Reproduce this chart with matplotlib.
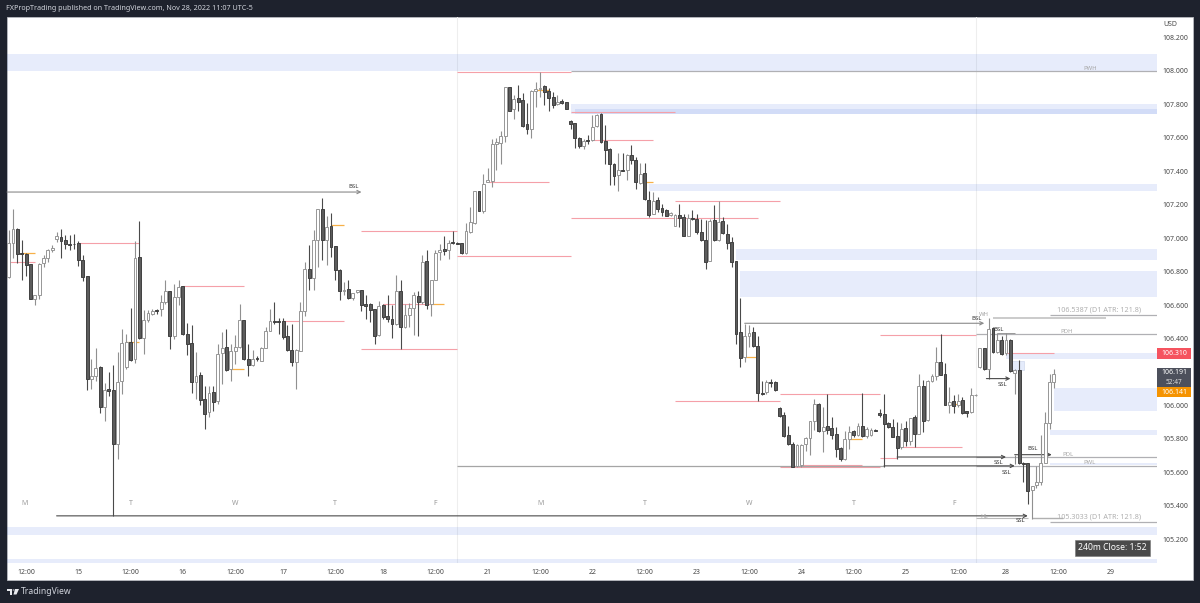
import matplotlib
matplotlib.use('Agg')
import matplotlib.pyplot as plt
from matplotlib.patches import Rectangle, Circle, Polygon

plt.rcParams['font.family'] = ['Noto Sans', 'DejaVu Sans']

# hourly candles
opens = [106.768, 106.972, 107.052, 106.914, 106.904, 106.844, 106.638, 106.658, 106.852, 106.884,
         106.928, 106.996, 107.008, 106.992, 106.968, 106.968, 106.972, 106.868, 106.772, 106.158,
         106.174, 106.228, 105.992, 106.098, 106.092, 105.768, 106.148, 106.228, 106.380, 106.278,
         106.888, 106.404, 106.512, 106.548, 106.572, 106.578, 106.618, 106.682, 106.412, 106.648,
         106.712, 106.428, 106.374, 106.140, 106.180, 106.038, 105.958, 106.078, 106.024, 106.312,
         106.352, 106.218, 106.328, 106.348, 106.512, 106.278, 106.242, 106.286, 106.266, 106.346,
         106.444, 106.506, 106.506, 106.502, 106.412, 106.332, 106.258, 106.328, 106.562, 106.818,
         106.764, 106.988, 107.176, 106.992, 107.072, 106.952, 106.812, 106.682, 106.698, 106.644,
         106.676, 106.692, 106.604, 106.604, 106.578, 106.418, 106.602, 106.532, 106.518, 106.484,
         106.686, 106.466, 106.542, 106.584, 106.654, 106.618, 106.864, 106.608, 106.752, 106.918,
         106.934, 106.932, 106.976, 106.974, 106.972, 106.914, 107.034, 107.092, 107.282, 107.162,
         107.336, 107.342, 107.562, 107.572, 107.614, 107.902, 107.770, 107.836, 107.826, 107.680,
         107.656, 107.882, 107.894, 107.910, 107.880, 107.842, 107.802, 107.820, 107.812, 107.700,
         107.686, 107.602, 107.552, 107.586, 107.586, 107.670, 107.740, 107.580, 107.536, 107.446,
         107.376, 107.410, 107.406, 107.500, 107.470, 107.330, 107.392, 107.230, 107.146, 107.226,
         107.180, 107.166, 107.136, 107.072, 107.140, 107.126, 107.012, 107.122, 107.116, 107.036,
         106.992, 106.866, 107.106, 106.990, 107.102, 107.022, 106.976, 106.863, 106.437, 106.289,
         106.417, 106.437, 106.357, 106.075, 106.079, 106.141, 106.139, 105.985, 105.945, 105.825,
         105.769, 105.637, 105.641, 105.769, 105.805, 105.905, 106.011, 105.849, 105.877, 105.863,
         105.829, 105.745, 105.681, 105.799, 105.845, 105.825, 105.875, 105.819, 105.825, 105.853,
         105.957, 105.949, 105.893, 105.873, 105.819, 105.749, 105.865, 105.785, 105.929, 105.829,
         106.117, 105.913, 106.143, 106.175, 106.261, 106.189, 106.005, 106.027, 106.001, 106.033,
         105.965, 105.961, 106.059, 106.230, 106.344, 106.220, 106.460, 106.320, 106.390, 106.314,
         106.390, 106.194, 106.210, 105.656, 105.654, 105.496, 105.524, 105.540, 105.658, 105.894,
         106.140]
highs = [107.048, 107.172, 107.058, 106.988, 106.914, 106.848, 106.658, 106.852, 106.898, 106.938,
         106.958, 107.034, 107.052, 107.018, 107.018, 107.024, 106.984, 106.898, 106.772, 106.278,
         106.342, 106.238, 106.134, 106.198, 106.244, 106.322, 106.458, 106.428, 106.584, 106.984,
         107.104, 106.568, 106.568, 106.578, 106.578, 106.658, 106.752, 106.684, 106.728, 106.752,
         106.712, 106.492, 106.478, 106.318, 106.198, 106.118, 106.118, 106.118, 106.368, 106.438,
         106.458, 106.368, 106.418, 106.608, 106.512, 106.364, 106.332, 106.298, 106.352, 106.468,
         106.578, 106.618, 106.524, 106.524, 106.478, 106.484, 106.338, 106.618, 106.858, 106.958,
         107.048, 107.172, 107.238, 107.132, 107.152, 106.952, 106.818, 106.738, 106.752, 106.674,
         106.692, 106.692, 106.658, 106.612, 106.578, 106.624, 106.604, 106.658, 106.598, 106.782,
         106.748, 106.604, 106.612, 106.678, 106.684, 106.898, 106.928, 106.752, 106.932, 106.968,
         107.012, 106.988, 107.044, 106.978, 106.974, 107.088, 107.188, 107.282, 107.282, 107.386,
         107.420, 107.596, 107.602, 107.640, 107.902, 107.902, 107.856, 107.916, 107.870, 107.806,
         107.886, 107.936, 107.996, 107.916, 107.896, 107.876, 107.856, 107.830, 107.816, 107.706,
         107.690, 107.606, 107.596, 107.616, 107.736, 107.740, 107.750, 107.676, 107.542, 107.450,
         107.510, 107.510, 107.506, 107.560, 107.486, 107.450, 107.450, 107.282, 107.276, 107.246,
         107.202, 107.176, 107.156, 107.146, 107.206, 107.142, 107.142, 107.170, 107.142, 107.116,
         107.106, 107.116, 107.196, 107.222, 107.126, 107.082, 107.006, 106.863, 106.643, 106.489,
         106.479, 106.469, 106.413, 106.145, 106.153, 106.155, 106.145, 105.993, 105.959, 105.879,
         105.779, 105.769, 105.769, 105.813, 105.905, 106.039, 106.013, 105.993, 106.065, 105.929,
         105.869, 105.749, 105.849, 105.879, 105.853, 105.897, 106.073, 105.869, 105.865, 105.857,
         105.979, 106.065, 105.899, 105.919, 105.899, 105.893, 105.909, 105.925, 105.945, 106.189,
         106.149, 106.149, 106.185, 106.349, 106.425, 106.253, 106.109, 106.059, 106.069, 106.049,
         105.969, 106.105, 106.065, 106.344, 106.344, 106.520, 106.466, 106.430, 106.414, 106.434,
         106.394, 106.220, 106.274, 105.660, 105.656, 105.520, 105.640, 105.820, 105.960, 106.186,
         106.220]
lows = [106.764, 106.884, 106.852, 106.748, 106.772, 106.634, 106.600, 106.638, 106.828, 106.858,
        106.918, 106.978, 106.884, 106.938, 106.928, 106.938, 106.832, 106.744, 106.092, 106.098,
        106.148, 105.952, 105.908, 106.058, 105.338, 105.682, 106.068, 106.218, 106.268, 106.252,
        106.398, 106.308, 106.498, 106.538, 106.548, 106.534, 106.604, 106.338, 106.398, 106.598,
        106.422, 106.304, 106.072, 106.038, 106.002, 105.858, 105.928, 105.968, 106.008, 106.128,
        106.208, 106.148, 106.248, 106.342, 106.274, 106.178, 106.238, 106.268, 106.264, 106.342,
        106.442, 106.488, 106.424, 106.398, 106.328, 106.238, 106.098, 106.328, 106.532, 106.692,
        106.692, 106.828, 106.872, 106.838, 106.888, 106.752, 106.632, 106.658, 106.638, 106.632,
        106.672, 106.564, 106.518, 106.498, 106.364, 106.414, 106.518, 106.498, 106.404, 106.478,
        106.338, 106.462, 106.468, 106.418, 106.414, 106.604, 106.578, 106.532, 106.748, 106.868,
        106.898, 106.878, 106.968, 106.964, 106.904, 106.904, 107.028, 107.086, 107.162, 107.150,
        107.336, 107.306, 107.410, 107.442, 107.576, 107.762, 107.710, 107.762, 107.666, 107.622,
        107.602, 107.786, 107.846, 107.796, 107.762, 107.776, 107.796, 107.802, 107.772, 107.652,
        107.540, 107.542, 107.536, 107.566, 107.582, 107.666, 107.570, 107.442, 107.316, 107.316,
        107.282, 107.402, 107.346, 107.442, 107.296, 107.326, 107.230, 107.126, 107.142, 107.156,
        107.130, 107.130, 107.130, 107.070, 107.066, 107.012, 107.012, 107.106, 107.026, 106.986,
        106.816, 106.862, 106.986, 106.982, 107.026, 106.936, 106.826, 106.369, 106.229, 106.259,
        106.349, 106.349, 106.029, 106.063, 106.069, 106.109, 106.085, 105.929, 105.813, 105.765,
        105.629, 105.633, 105.633, 105.729, 105.705, 105.853, 105.839, 105.719, 105.829, 105.799,
        105.689, 105.669, 105.673, 105.739, 105.809, 105.819, 105.809, 105.805, 105.819, 105.845,
        105.933, 105.629, 105.865, 105.809, 105.679, 105.739, 105.759, 105.765, 105.749, 105.829,
        105.843, 105.909, 106.139, 106.149, 106.179, 106.003, 105.953, 105.953, 105.989, 105.949,
        105.933, 105.957, 106.057, 106.226, 106.214, 106.210, 106.314, 106.314, 106.300, 106.300,
        106.200, 106.070, 105.650, 105.540, 105.410, 105.320, 105.506, 105.526, 105.654, 105.860,
        106.104]
closes = [106.972, 107.052, 106.908, 106.906, 106.840, 106.638, 106.658, 106.848, 106.884, 106.928,
          106.944, 107.012, 106.984, 106.968, 106.960, 106.964, 106.868, 106.768, 106.158, 106.178,
          106.224, 105.988, 106.092, 106.088, 105.768, 106.138, 106.374, 106.378, 106.272, 106.884,
          106.404, 106.512, 106.552, 106.564, 106.566, 106.618, 106.682, 106.414, 106.648, 106.708,
          106.424, 106.368, 106.138, 106.178, 106.032, 105.948, 106.072, 106.018, 106.308, 106.344,
          106.212, 106.324, 106.348, 106.512, 106.278, 106.242, 106.278, 106.280, 106.342, 106.442,
          106.506, 106.500, 106.500, 106.408, 106.332, 106.258, 106.332, 106.562, 106.814, 106.762,
          106.988, 107.172, 106.988, 107.064, 106.948, 106.812, 106.682, 106.692, 106.644, 106.672,
          106.688, 106.598, 106.596, 106.572, 106.414, 106.594, 106.528, 106.518, 106.488, 106.682,
          106.468, 106.542, 106.584, 106.658, 106.618, 106.858, 106.602, 106.752, 106.912, 106.928,
          106.926, 106.972, 106.970, 106.968, 106.914, 107.042, 107.094, 107.282, 107.162, 107.326,
          107.346, 107.562, 107.576, 107.610, 107.902, 107.762, 107.830, 107.816, 107.672, 107.652,
          107.882, 107.894, 107.898, 107.874, 107.836, 107.796, 107.816, 107.806, 107.774, 107.680,
          107.600, 107.550, 107.584, 107.582, 107.666, 107.736, 107.576, 107.530, 107.442, 107.372,
          107.406, 107.404, 107.496, 107.470, 107.336, 107.386, 107.236, 107.136, 107.220, 107.176,
          107.156, 107.134, 107.152, 107.136, 107.122, 107.012, 107.120, 107.114, 107.034, 106.990,
          106.856, 107.102, 106.990, 107.098, 107.030, 106.970, 106.856, 106.429, 106.285, 106.417,
          106.433, 106.357, 106.073, 106.069, 106.139, 106.135, 106.089, 105.937, 105.815, 105.769,
          105.633, 105.765, 105.765, 105.805, 105.905, 106.009, 105.845, 105.873, 105.855, 105.823,
          105.739, 105.677, 105.799, 105.843, 105.825, 105.877, 105.815, 105.859, 105.853, 105.849,
          105.943, 105.889, 105.869, 105.813, 105.745, 105.857, 105.785, 105.925, 105.829, 106.117,
          105.909, 106.143, 106.173, 106.261, 106.181, 106.005, 106.021, 105.997, 106.029, 105.957,
          105.955, 106.061, 106.063, 106.344, 106.220, 106.454, 106.320, 106.390, 106.310, 106.390,
          106.204, 106.214, 105.656, 105.650, 105.490, 105.516, 105.540, 105.654, 105.894, 106.138,
          106.190]

# 106.200 sits under the last price tag in the picture, so it has no label
price_ticks = [108.2, 108.0, 107.8, 107.6, 107.4, 107.2, 107.0, 106.8, 106.6, 106.4, 106.0,
               105.8, 105.6, 105.4, 105.2]
time_positions = [4, 16, 28, 40, 52, 63, 75, 86, 98, 110, 122, 134, 146, 158, 170, 182, 194, 206, 218, 229, 241, 253]
time_labels = ['12:00', '15', '12:00', '16', '12:00', '17', '12:00', '18', '12:00', '21', '12:00',
               '22', '12:00', '23', '12:00', '24', '12:00', '25', '12:00', '28', '12:00', '29']
day_positions = [3.7, 28, 52, 75, 98, 122, 146, 170, 194, 217]
day_labels = ['M', 'T', 'W', 'T', 'F', 'M', 'T', 'W', 'T', 'F']
session_lines = [103, 222]

# fair value gaps: low price, high price, first bar
zone_low = [108.0, 107.743, 107.743, 107.282, 106.87, 106.648, 106.278, 105.967, 105.823, 105.644, 105.222, 105.057]
zone_high = [108.102, 107.803, 107.773, 107.324, 106.935, 106.804, 106.313, 106.104, 105.853, 105.656, 105.273, 105.08]
zone_start = [-1, 129, 130, 147, 167, 168, 229, 240, 239, 239, -1, -1]

# pink session levels
red_price = [106.972, 106.856, 106.714, 106.506, 107.045, 106.338, 106.604, 106.896, 107.122, 107.336, 107.996,
             107.752, 107.59, 107.224, 106.029, 106.067, 105.645, 105.631, 105.749, 105.685, 106.423, 106.314]
red_start = [16, -1, 40, 63, 81, 81, 86, 103, 129, 110, 103, 129, 134, 153, 153, 177, 182, 177, 205, 200, 200, 229]
red_end = [30, 6, 54, 77, 103, 103, 97, 129, 172, 124, 129, 153, 148, 177, 177, 200, 196, 200, 219, 204, 222, 240]

orange_price = [106.914, 106.38, 106.218, 107.076, 106.604, 107.886, 107.334, 106.289, 105.801, 106.009]
orange_start = [3, 27, 51, 74, 97, 121, 145, 169, 193, 216]
orange_end = [6, 30, 54, 77, 100, 124, 148, 172, 196, 219]

# dark grey liquidity arrows
arrow_price = [107.276, 105.339, 105.691, 105.638, 106.491, 106.16, 105.705]
arrow_start = [-0.39, 11, 204, 201, 169, 224.5, 231]
arrow_end = [81, 234, 229, 231, 224, 230, 239.5]

# level lines reaching the price axis
level_price = [108.0, 106.424, 105.69, 105.636, 106.5387, 105.3033]
level_start = [129, 222, 222, 222, 239, 239]
level_names = ['PWH', 'PDH', 'PDL', 'PWL', '106.5387 (D1 ATR: 121.8)', '105.3033 (D1 ATR: 121.8)']

W, H = 1200, 603
DARK = '#1e222d'


def px(x, y):
    return x / W, 1 - y / H


fig = plt.figure(figsize=(12, 6.03), dpi=100, facecolor=DARK)
fig.add_artist(Rectangle(px(7, 580), 1186 / W, 563 / H, transform=fig.transFigure,
                         facecolor='white', edgecolor='#b8bac0', linewidth=0.6, zorder=-1))

ax = fig.add_axes([7 / W, 40 / H, 1150 / W, 546 / H], facecolor='none')
ax.set_xlim(-0.39, 263.67)
ax.set_ylim(105.057, 108.323)
for s in ax.spines.values():
    s.set_visible(False)
ax.set_xticks(time_positions, time_labels)
ax.set_yticks(price_ticks, [f'{p:.3f}' for p in price_ticks])
ax.yaxis.tick_right()
ax.tick_params(axis='both', length=0, labelsize=5, labelcolor='#4a4a4a')
ax.tick_params(axis='x', pad=4)
ax.tick_params(axis='y', pad=4)

for s in session_lines:
    ax.axvline(s, color='#eeeeee', lw=0.8, zorder=1)

for lo, hi, st in zip(zone_low, zone_high, zone_start):
    ax.fill_between([st, 263.67], lo, hi, color='#3d6ae0', alpha=0.12, lw=0, zorder=1)
ax.fill_between([230.4, 233.1], 106.212, 106.266, facecolor='#e4ebfb', edgecolor='#c8d2ea', lw=0.4, zorder=1)

ax.hlines(red_price, red_start, red_end, color='#f5a0a8', lw=0.8, zorder=2)
ax.hlines(orange_price, orange_start, orange_end, color='#f7b048', lw=0.9, zorder=2)

for p, st, name in zip(level_price, level_start, level_names):
    ax.hlines(p, st, 263.67, color='#b0b0b4', lw=0.9, zorder=2)
ax.hlines(105.638, 103, 201, color='#a5a5a5', lw=0.9, zorder=2)
ax.hlines(106.524, 226, 252, color='#c2c2c2', lw=1.2, zorder=2)
ax.hlines(105.326, 222, 234, color='#bbbbbb', lw=0.8, zorder=2)
ax.hlines(105.326, 235, 242, color='#b0b0b0', lw=1.0, zorder=2)
ax.hlines(106.434, 227, 231, color='#999999', lw=0.7, zorder=2)
ax.vlines(225, 106.16, 106.344, color='#666666', lw=0.8, zorder=2)
ax.vlines(231, 105.65, 105.705, color='#888888', lw=0.8, zorder=2)

for p, st, en in zip(arrow_price, arrow_start, arrow_end):
    c = '#8a8a8a' if st in (-0.39, 169) else '#4a4a4a'
    ax.annotate('', xy=(en, p), xytext=(st, p), zorder=3,
                arrowprops=dict(arrowstyle='->', color=c, lw=0.8, shrinkA=0, shrinkB=0, mutation_scale=6))

# candles
for i, (o, h, l, c) in enumerate(zip(opens, highs, lows, closes)):
    down = c < o
    ax.vlines(i, l, h, color='#4a4a4a' if down else '#909090', lw=0.8, zorder=4)
    ax.add_patch(Rectangle((i - 0.33, min(o, c)), 0.66, max(abs(c - o), 0.004),
                           facecolor='#5c5c5c' if down else 'white',
                           edgecolor='#404040' if down else '#969696', lw=0.7, zorder=5))

# small labels on the chart
for name, x, y in [('BSL', 354, 187), ('BSL', 977, 318), ('BSL', 999, 330), ('BSL', 1033, 448),
                   ('SSL', 999, 463), ('SSL', 1007, 472), ('SSL', 1003, 384), ('SSL', 1021, 521)]:
    fig.text(*px(x, y), name, fontsize=4.3, color='#333333', ha='center', va='center')
for name, x, y in [('WH', 984, 315), ('HL', 984, 516), ('PWH', 1090, 68), ('PDH', 1067, 331),
                   ('PDL', 1068, 454), ('PWL', 1090, 463)]:
    fig.text(*px(x, y), name, fontsize=4.3, color='#a8a8a8', ha='center', va='center')
fig.text(*px(1099, 310), level_names[4], fontsize=5.2, color='#b0b0b0', ha='center', va='center')
fig.text(*px(1099, 517), level_names[5], fontsize=5.2, color='#b0b0b0', ha='center', va='center')

for d, name in zip(day_positions, day_labels):
    ax.text(d, 105.412, name, fontsize=5, color='#999999', ha='center', va='center')

# price axis tags
fig.text(*px(1163, 25), 'USD', fontsize=5, color='#4a4a4a', va='center')
for y0, y1, col, label in [(348, 359, '#f5535f', '106.310'), (368, 387, '#4d505c', None), (387, 397, '#f59300', '106.141')]:
    fig.add_artist(Rectangle(px(1157, y1), 34 / W, (y1 - y0) / H, transform=fig.transFigure,
                             facecolor=col, edgecolor='none', zorder=6))
    if label:
        fig.text(*px(1174, (y0 + y1) / 2), label, fontsize=5, color='white', ha='center', va='center', zorder=7)
fig.text(*px(1174, 373), '106.191', fontsize=5, color='white', ha='center', va='center', zorder=7)
fig.text(*px(1174, 382), '52:47', fontsize=4.7, color='#dddddd', ha='center', va='center', zorder=7)

fig.add_artist(Rectangle(px(1075, 556), 75 / W, 16 / H, transform=fig.transFigure,
                         facecolor='#4a4a4a', edgecolor='#777777', linewidth=0.4, zorder=6))
fig.text(*px(1112.5, 548), '240m Close: 1:52', fontsize=6.2, color='white', ha='center', va='center', zorder=7)

# header and footer
fig.text(*px(6, 9), 'FXPropTrading published on TradingView.com, Nov 28, 2022 11:07 UTC-5',
         fontsize=5.2, color='#d1d4dc', va='center')
fig.text(*px(21, 592), 'TradingView', fontsize=6.2, color='#d1d4dc', va='center')
fig.add_artist(Polygon([px(7, 589), px(12, 589), px(12, 594.5), px(9.5, 594.5), px(9.5, 591), px(7, 591)],
                       transform=fig.transFigure, facecolor='#e8e9ee', edgecolor='none'))
fig.add_artist(Circle(px(13.5, 590), 1 / W, transform=fig.transFigure, facecolor='#e8e9ee', edgecolor='none'))
fig.add_artist(Polygon([px(15, 589), px(19, 589), px(16.5, 594.5), px(13.5, 594.5)],
                       transform=fig.transFigure, facecolor='#e8e9ee', edgecolor='none'))

fig.savefig('out.png', dpi=100, facecolor=DARK)
